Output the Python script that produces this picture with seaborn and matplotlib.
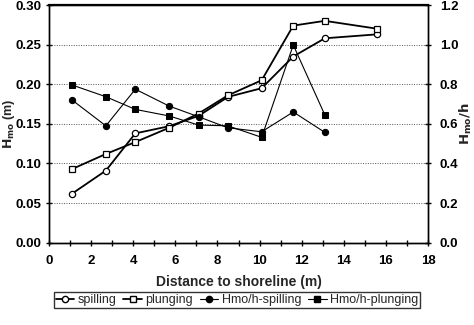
import matplotlib
matplotlib.use("Agg")
import matplotlib.pyplot as plt
import seaborn as sns
import pandas as pd
from matplotlib.lines import Line2D

sns.set_style("white")
plt.rcParams['font.family'] = ['Liberation Sans', 'DejaVu Sans']

x = [1.1, 2.7, 4.1, 5.7, 7.1, 8.5, 10.1, 11.6, 13.1, 15.6]
spilling = [0.062, 0.091, 0.138, 0.147, 0.160, 0.184, 0.195, 0.235, 0.258, 0.263]
plunging = [0.093, 0.112, 0.127, 0.145, 0.163, 0.186, 0.205, 0.274, 0.280, 0.270]
x_ratio = [1.1, 2.7, 4.1, 5.7, 7.1, 8.5, 10.1, 11.6, 13.1]
hmoh_spilling = [0.72, 0.59, 0.775, 0.69, 0.636, 0.58, 0.56, 0.66, 0.557]
hmoh_plunging = [0.796, 0.737, 0.673, 0.64, 0.594, 0.59, 0.532, 0.998, 0.645]
labels = ["spilling", "plunging", "Hmo/h-spilling", "Hmo/h-plunging"]

fig = plt.figure(figsize=(4.74, 3.25), dpi=100)
ax = fig.add_axes([0.1034, 0.2532, 0.7996, 0.7314])
ax2 = ax.twinx()

df1 = pd.DataFrame({"x": x, "y": spilling})
df2 = pd.DataFrame({"x": x, "y": plunging})
df3 = pd.DataFrame({"x": x_ratio, "y": hmoh_spilling})
df4 = pd.DataFrame({"x": x_ratio, "y": hmoh_plunging})

ms = 4.5
sns.lineplot(data=df1, x="x", y="y", ax=ax, color="black", lw=1.3, marker="o",
             markersize=ms, markerfacecolor="white", markeredgecolor="black", markeredgewidth=0.9, zorder=5)
sns.lineplot(data=df2, x="x", y="y", ax=ax, color="black", lw=1.3, marker="s",
             markersize=ms, markerfacecolor="white", markeredgecolor="black", markeredgewidth=0.9, zorder=5)
sns.lineplot(data=df3, x="x", y="y", ax=ax2, color="black", lw=0.8, marker="o",
             markersize=ms, markerfacecolor="black", markeredgecolor="black", zorder=5)
sns.lineplot(data=df4, x="x", y="y", ax=ax2, color="black", lw=0.8, marker="s",
             markersize=ms, markerfacecolor="black", markeredgecolor="black", zorder=5)

ax.set_xlim(0, 18)
ax.set_ylim(0, 0.30)
ax2.set_ylim(0, 1.2)
ax.set_xticks(range(0, 19, 2))
ax.set_xticks(range(1, 18, 2), minor=True)
ax.set_yticks([0, 0.05, 0.10, 0.15, 0.20, 0.25, 0.30])
ax.set_yticklabels(["0.00", "0.05", "0.10", "0.15", "0.20", "0.25", "0.30"])
ax2.set_yticks([0, 0.2, 0.4, 0.6, 0.8, 1.0, 1.2])
ax2.set_yticklabels(["0.0", "0.2", "0.4", "0.6", "0.8", "1.0", "1.2"])

for yv in [0.05, 0.10, 0.15, 0.20, 0.25]:
    ax.axhline(yv, color="#555555", lw=0.7, ls=(0, (1, 1.5)), zorder=1)

for a in (ax, ax2):
    for s in a.spines.values():
        s.set_color("black")
        s.set_linewidth(1.0)
    a.tick_params(axis="both", which="both", direction="inout", length=5, width=1.0,
                  labelsize=9.5, colors="black", pad=3)
    for lab in a.get_xticklabels() + a.get_yticklabels():
        lab.set_fontweight("bold")
ax.spines["top"].set_linewidth(1.6)
ax.tick_params(axis="x", which="both", bottom=True, top=False, pad=6)
ax.tick_params(axis="y", left=True, right=False, pad=3)
ax2.tick_params(axis="y", right=True, left=False, pad=6)

ax.set_xlabel("Distance to shoreline (m)", fontsize=10, fontweight="bold")
ax.xaxis.set_label_coords(0.5, -0.135)
ax.set_ylabel(r"$\mathbf{H_{mo}}$ (m)", fontsize=9, fontweight="bold")
ax.yaxis.set_label_coords(-0.085, 0.5)
ax2.set_ylabel(r"$\mathbf{H_{mo}/h}$", fontsize=9.5, fontweight="bold", rotation=90)
ax2.yaxis.set_label_coords(1.078, 0.5)

handles = [
    Line2D([], [], color="black", lw=1.3, marker="o", markersize=ms, markerfacecolor="white", markeredgecolor="black"),
    Line2D([], [], color="black", lw=1.3, marker="s", markersize=ms, markerfacecolor="white", markeredgecolor="black"),
    Line2D([], [], color="black", lw=0.8, marker="o", markersize=ms, markerfacecolor="black"),
    Line2D([], [], color="black", lw=0.8, marker="s", markersize=ms, markerfacecolor="black"),
]
leg = fig.legend(handles, labels, loc="center", bbox_to_anchor=(0.5, 0.077), ncol=4,
                 frameon=True, fancybox=False, fontsize=9, handlelength=1.5,
                 handletextpad=0.3, columnspacing=0.5, borderpad=0.15)
leg.get_frame().set_edgecolor("black")
leg.get_frame().set_linewidth(1.0)

fig.savefig("out.png", dpi=100)
